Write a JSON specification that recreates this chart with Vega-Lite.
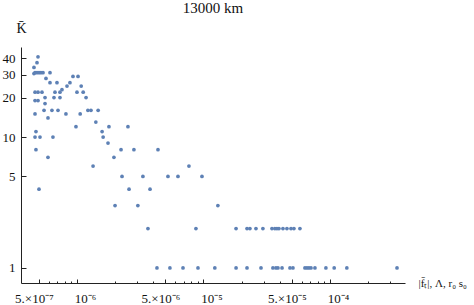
{
  "$schema": "https://vega.github.io/schema/vega-lite/v6.json",
  "autosize": "none",
  "width": 384,
  "height": 236,
  "padding": {"left": 21, "top": 47, "right": 69, "bottom": 22},
  "background": "white",
  "config": {"view": {"stroke": null}, "font": "Liberation Serif"},
  "title": {"text": "13000 km", "font": "Liberation Serif", "fontSize": 15, "fontWeight": "normal", "color": "#111", "anchor": "middle", "baseline": "alphabetic", "offset": 6, "dy": 13},
  "data": {"values": [
    {"f": 4.92e-7, "K": 41}, {"f": 4.83e-7, "K": 37}, {"f": 4.57e-7, "K": 34}, {"f": 4.57e-7, "K": 30.5},
    {"f": 4.66e-7, "K": 31}, {"f": 4.83e-7, "K": 31}, {"f": 5.01e-7, "K": 31}, {"f": 5.19e-7, "K": 31},
    {"f": 5.39e-7, "K": 31}, {"f": 6.12e-7, "K": 31}, {"f": 5.69e-7, "K": 28}, {"f": 6.12e-7, "K": 26},
    {"f": 6.95e-7, "K": 26}, {"f": 7.61e-7, "K": 23}, {"f": 8.34e-7, "K": 24.5}, {"f": 8.8e-7, "K": 26},
    {"f": 9.3e-7, "K": 29}, {"f": 1.02e-6, "K": 29}, {"f": 6.7e-7, "K": 22}, {"f": 7.34e-7, "K": 22},
    {"f": 1.08e-6, "K": 24.5}, {"f": 1.0e-6, "K": 22}, {"f": 1.12e-6, "K": 22}, {"f": 1.18e-6, "K": 20},
    {"f": 4.66e-7, "K": 22}, {"f": 4.92e-7, "K": 22}, {"f": 5.29e-7, "K": 22}, {"f": 4.66e-7, "K": 19},
    {"f": 4.92e-7, "K": 19}, {"f": 5.59e-7, "K": 20}, {"f": 6.58e-7, "K": 20}, {"f": 7.34e-7, "K": 20},
    {"f": 5.59e-7, "K": 18}, {"f": 5.49e-7, "K": 16}, {"f": 6.34e-7, "K": 16}, {"f": 7.08e-7, "K": 16},
    {"f": 4.66e-7, "K": 15}, {"f": 5.9e-7, "K": 14}, {"f": 8.18e-7, "K": 15}, {"f": 1.06e-6, "K": 15},
    {"f": 1.22e-6, "K": 16}, {"f": 1.29e-6, "K": 16}, {"f": 1.47e-6, "K": 16}, {"f": 9.82e-7, "K": 12},
    {"f": 1.41e-6, "K": 13}, {"f": 1.58e-6, "K": 11}, {"f": 1.61e-6, "K": 10}, {"f": 1.76e-6, "K": 9},
    {"f": 1.79e-6, "K": 12}, {"f": 2.53e-6, "K": 12}, {"f": 4.66e-7, "K": 10}, {"f": 5.1e-7, "K": 10},
    {"f": 4.74e-7, "K": 11}, {"f": 6.46e-7, "K": 10}, {"f": 4.74e-7, "K": 8}, {"f": 5.9e-7, "K": 7},
    {"f": 5.01e-7, "K": 4}, {"f": 1.96e-6, "K": 7}, {"f": 2.23e-6, "K": 8}, {"f": 2.82e-6, "K": 8},
    {"f": 4.37e-6, "K": 8}, {"f": 1.34e-6, "K": 6}, {"f": 7.68e-6, "K": 6}, {"f": 2.27e-6, "K": 5},
    {"f": 3.32e-6, "K": 5}, {"f": 5.24e-6, "K": 5}, {"f": 6.29e-6, "K": 5}, {"f": 9.73e-6, "K": 5},
    {"f": 2.58e-6, "K": 4}, {"f": 3.78e-6, "K": 4}, {"f": 2.0e-6, "K": 3}, {"f": 3.03e-6, "K": 3},
    {"f": 1.3e-5, "K": 3},
    {"f": 3.64e-6, "K": 2}, {"f": 8.72e-6, "K": 2}, {"f": 1.81e-5, "K": 2}, {"f": 2.21e-5, "K": 2},
    {"f": 2.33e-5, "K": 2}, {"f": 2.6e-5, "K": 2}, {"f": 2.95e-5, "K": 2}, {"f": 3.48e-5, "K": 2},
    {"f": 3.67e-5, "K": 2}, {"f": 3.81e-5, "K": 2}, {"f": 3.95e-5, "K": 2}, {"f": 4.25e-5, "K": 2},
    {"f": 4.57e-5, "K": 2}, {"f": 4.92e-5, "K": 2}, {"f": 5.19e-5, "K": 2}, {"f": 5.79e-5, "K": 2},
    {"f": 4.29e-6, "K": 1}, {"f": 5.43e-6, "K": 1}, {"f": 6.89e-6, "K": 1}, {"f": 9.05e-6, "K": 1},
    {"f": 1.23e-5, "K": 1}, {"f": 1.81e-5, "K": 1}, {"f": 2.21e-5, "K": 1}, {"f": 2.85e-5, "K": 1},
    {"f": 3.54e-5, "K": 1}, {"f": 3.74e-5, "K": 1}, {"f": 3.88e-5, "K": 1}, {"f": 4.18e-5, "K": 1},
    {"f": 4.83e-5, "K": 1}, {"f": 5.1e-5, "K": 1}, {"f": 6.34e-5, "K": 1}, {"f": 6.58e-5, "K": 1},
    {"f": 6.82e-5, "K": 1}, {"f": 7.08e-5, "K": 1}, {"f": 7.61e-5, "K": 1}, {"f": 9.29e-5, "K": 1},
    {"f": 1.08e-4, "K": 1}, {"f": 1.36e-4, "K": 1}, {"f": 3.39e-4, "K": 1}
  ]},
  "mark": {"type": "circle", "size": 14, "color": "#5E81B5", "opacity": 1},
  "encoding": {
    "x": {
      "field": "f", "type": "quantitative",
      "scale": {"type": "log", "domain": [3.61e-7, 3.92e-4], "nice": false},
      "axis": {
        "values": [5e-7, 6e-7, 7e-7, 8e-7, 9e-7, 1e-6, 2e-6, 3e-6, 4e-6, 5e-6, 6e-6, 7e-6, 8e-6, 9e-6, 1e-5, 2e-5, 3e-5, 4e-5, 5e-5, 6e-5, 7e-5, 8e-5, 9e-5, 1e-4, 2e-4, 3e-4],
        "labelExpr": "['5.×10⁻⁷','10⁻⁶','5.×10⁻⁶','10⁻⁵','5.×10⁻⁵','10⁻⁴'][indexof([5e-7,1e-6,5e-6,1e-5,5e-5,1e-4], datum.value)] || ''",
        "tickSize": {"condition": {"test": "indexof([5e-7,1e-6,5e-6,1e-5,5e-5,1e-4], datum.value) >= 0", "value": -4}, "value": -2},
        "labelOffset": {"condition": {"test": "indexof([1e-6,1e-5,1e-4], datum.value) >= 0", "value": 8}, "value": -5},
        "labelPadding": 13,
        "labelBaseline": "top",
        "labelOverlap": false,
        "labelFlush": false,
        "labelFont": "Liberation Serif",
        "labelFontSize": 13,
        "labelColor": "#111",
        "grid": false,
        "domainColor": "#222",
        "tickColor": "#222",
        "title": "|f̄ₜ|, Λ, r₀ s₀",
        "titleFont": "Liberation Serif",
        "titleFontSize": 11,
        "titleFontWeight": "normal",
        "titleColor": "#111",
        "titleAngle": 0,
        "titleAlign": "left",
        "titleBaseline": "middle",
        "titleX": 397,
        "titleY": 0
      }
    },
    "y": {
      "field": "K", "type": "quantitative",
      "scale": {"type": "log", "domain": [0.768, 48.7], "nice": false},
      "axis": {
        "values": [1, 5, 10, 20, 30, 40],
        "format": "d",
        "tickSize": -5,
        "labelPadding": 11,
        "labelFont": "Liberation Serif",
        "labelFontSize": 13,
        "labelColor": "#111",
        "grid": false,
        "domainColor": "#222",
        "tickColor": "#222",
        "labelOverlap": false,
        "labelFlush": false,
        "title": "K̄",
        "titleFont": "Liberation Serif",
        "titleFontSize": 14,
        "titleFontWeight": "normal",
        "titleColor": "#111",
        "titleAngle": 0,
        "titleAlign": "center",
        "titleBaseline": "middle",
        "titleX": 0,
        "titleY": -19
      }
    }
  }
}
